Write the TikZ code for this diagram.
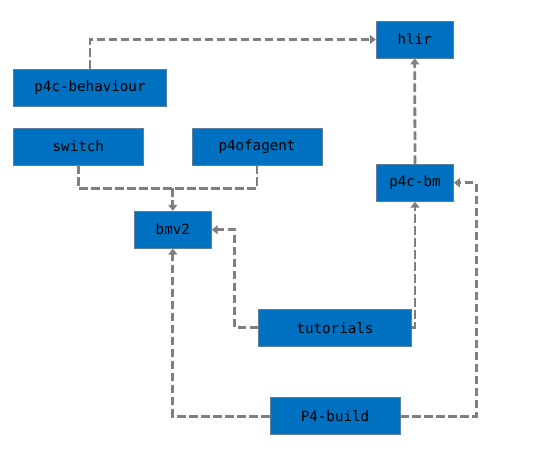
\documentclass[tikz,border=0pt]{standalone}
\usepackage{fontspec}
\setmonofont{DejaVu Sans Mono}
\usepackage{tikz}
\usetikzlibrary{arrows.meta}
\definecolor{boxblue}{HTML}{0070C0}
\definecolor{boxline}{HTML}{5B7F9C}
\definecolor{linkgray}{HTML}{7F7F7F}

\begin{document}
\begin{tikzpicture}[
    x=1pt, y=-1pt,
    box/.style={rectangle, draw=boxline, fill=boxblue, line width=0.8pt, minimum height=37pt, minimum width=130pt, inner sep=0pt, font=\ttfamily\fontsize{14.2}{16}\selectfont},
    wide/.style={box, minimum width=153pt},
    small/.style={box, minimum width=77pt},
    link/.style={draw=linkgray, line width=2.8pt, dash pattern=on 8.5pt off 3.5pt},
    arrow/.style={link, -{Triangle[width=9pt,length=6pt]}}
]
    \useasboundingbox (0,0) rectangle (559,453);
    % Nodes
    \node[small] (hlir)  at (414.7,39.5)  {hlir};
    \node[wide]  (beh)   at (90,87.8)     {p4c-behaviour};
    \node[box]   (switch) at (78.3,146.5) {switch};
    \node[box]   (p4of)  at (257,146.8)   {p4ofagent};
    \node[small] (p4cbm) at (415,182.8)   {p4c-bm};
    \node[small] (bmv2)  at (172.8,229.7) {bmv2};
    \node[wide]  (tut)   at (335,327.7)   {tutorials};
    \node[box]   (build) at (335,416.3)   {P4-build};
    \coordinate (merge) at (172.8,188.3);

    % Arrows
    \draw[arrow] (beh.north) |- (hlir.west);
    \draw[arrow] (p4cbm.north) -- (hlir.south);
    \draw[link] (switch.south) |- (merge) -| (p4of.south);
    \draw[arrow] (merge) -- (bmv2.north);
    \draw[arrow] (tut.west) -- ++(-23.4,0) |- (bmv2.east);
    \draw[arrow] (tut.east) -| (p4cbm.south);
    \draw[arrow] (build.west) -| (bmv2.south);
    \draw[arrow] (build.east) -- ++(75.7,0) |- (p4cbm.east);
\end{tikzpicture}
\end{document}
